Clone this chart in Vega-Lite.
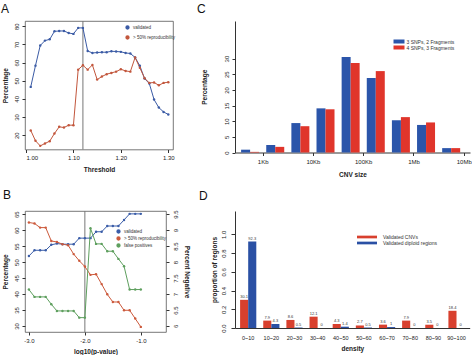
{
  "$schema": "https://vega.github.io/schema/vega-lite/v6.json",
  "padding": {"left": 0, "top": 2, "right": 0, "bottom": 0},
  "background": "white",
  "config": {
    "font": "Liberation Sans",
    "view": {"stroke": null},
    "axis": {"grid": false, "labelFontSize": 6, "titleFontSize": 6.5, "titleFontWeight": "bold", "domainColor": "#333", "tickColor": "#333", "labelColor": "#222", "titleColor": "#222", "tickSize": 3, "labelPadding": 3, "titlePadding": 5},
    "legend": {"labelFontSize": 5, "labelColor": "#333", "rowPadding": 1, "padding": 0, "labelOffset": 3},
    "title": {"fontSize": 12, "fontWeight": "normal", "anchor": "start", "frame": "group", "color": "#111"}
  },
  "datasets": {
    "a": [
      {"threshold": 1.01, "series": "validated", "pct": 46.6}, {"threshold": 1.02, "series": "validated", "pct": 58.3},
      {"threshold": 1.03, "series": "validated", "pct": 69.4}, {"threshold": 1.04, "series": "validated", "pct": 72.1},
      {"threshold": 1.05, "series": "validated", "pct": 72.8}, {"threshold": 1.06, "series": "validated", "pct": 77.2},
      {"threshold": 1.07, "series": "validated", "pct": 77.4}, {"threshold": 1.08, "series": "validated", "pct": 77.4},
      {"threshold": 1.09, "series": "validated", "pct": 76.3}, {"threshold": 1.10, "series": "validated", "pct": 75.8},
      {"threshold": 1.11, "series": "validated", "pct": 79.1}, {"threshold": 1.12, "series": "validated", "pct": 79.1},
      {"threshold": 1.13, "series": "validated", "pct": 66.4}, {"threshold": 1.14, "series": "validated", "pct": 65.3},
      {"threshold": 1.15, "series": "validated", "pct": 65.5}, {"threshold": 1.16, "series": "validated", "pct": 65.7},
      {"threshold": 1.17, "series": "validated", "pct": 65.7}, {"threshold": 1.18, "series": "validated", "pct": 66.2},
      {"threshold": 1.19, "series": "validated", "pct": 66.1}, {"threshold": 1.20, "series": "validated", "pct": 65.9},
      {"threshold": 1.21, "series": "validated", "pct": 65.3}, {"threshold": 1.22, "series": "validated", "pct": 65.0},
      {"threshold": 1.23, "series": "validated", "pct": 62.8}, {"threshold": 1.24, "series": "validated", "pct": 58.2},
      {"threshold": 1.25, "series": "validated", "pct": 51.2}, {"threshold": 1.26, "series": "validated", "pct": 48.4},
      {"threshold": 1.27, "series": "validated", "pct": 39.6}, {"threshold": 1.28, "series": "validated", "pct": 35.2},
      {"threshold": 1.29, "series": "validated", "pct": 32.8}, {"threshold": 1.30, "series": "validated", "pct": 31.4},
      {"threshold": 1.01, "series": "> 50% reproducibility", "pct": 22.6}, {"threshold": 1.02, "series": "> 50% reproducibility", "pct": 16.9},
      {"threshold": 1.03, "series": "> 50% reproducibility", "pct": 14.1}, {"threshold": 1.04, "series": "> 50% reproducibility", "pct": 15.4},
      {"threshold": 1.05, "series": "> 50% reproducibility", "pct": 16.7}, {"threshold": 1.06, "series": "> 50% reproducibility", "pct": 20.9},
      {"threshold": 1.07, "series": "> 50% reproducibility", "pct": 24.6}, {"threshold": 1.08, "series": "> 50% reproducibility", "pct": 24.2},
      {"threshold": 1.09, "series": "> 50% reproducibility", "pct": 25.5}, {"threshold": 1.10, "series": "> 50% reproducibility", "pct": 25.5},
      {"threshold": 1.11, "series": "> 50% reproducibility", "pct": 56.1}, {"threshold": 1.12, "series": "> 50% reproducibility", "pct": 58.5},
      {"threshold": 1.13, "series": "> 50% reproducibility", "pct": 56.1}, {"threshold": 1.14, "series": "> 50% reproducibility", "pct": 58.7},
      {"threshold": 1.15, "series": "> 50% reproducibility", "pct": 50.6}, {"threshold": 1.16, "series": "> 50% reproducibility", "pct": 52.3},
      {"threshold": 1.17, "series": "> 50% reproducibility", "pct": 53.6}, {"threshold": 1.18, "series": "> 50% reproducibility", "pct": 54.3},
      {"threshold": 1.19, "series": "> 50% reproducibility", "pct": 55.0}, {"threshold": 1.20, "series": "> 50% reproducibility", "pct": 56.3},
      {"threshold": 1.21, "series": "> 50% reproducibility", "pct": 55.4}, {"threshold": 1.22, "series": "> 50% reproducibility", "pct": 55.0},
      {"threshold": 1.23, "series": "> 50% reproducibility", "pct": 62.8}, {"threshold": 1.24, "series": "> 50% reproducibility", "pct": 57.1},
      {"threshold": 1.25, "series": "> 50% reproducibility", "pct": 51.4}, {"threshold": 1.26, "series": "> 50% reproducibility", "pct": 48.8},
      {"threshold": 1.27, "series": "> 50% reproducibility", "pct": 49.0}, {"threshold": 1.28, "series": "> 50% reproducibility", "pct": 47.5},
      {"threshold": 1.29, "series": "> 50% reproducibility", "pct": 48.8}, {"threshold": 1.30, "series": "> 50% reproducibility", "pct": 49.2}
    ],
    "b": [
      {"logp": -3.0, "series": "validated", "pct": 51.9}, {"logp": -2.9, "series": "validated", "pct": 53.7},
      {"logp": -2.8, "series": "validated", "pct": 53.7}, {"logp": -2.7, "series": "validated", "pct": 53.7},
      {"logp": -2.6, "series": "validated", "pct": 55.4}, {"logp": -2.5, "series": "validated", "pct": 55.8},
      {"logp": -2.4, "series": "validated", "pct": 55.6}, {"logp": -2.3, "series": "validated", "pct": 55.6},
      {"logp": -2.2, "series": "validated", "pct": 55.6}, {"logp": -2.1, "series": "validated", "pct": 57.5},
      {"logp": -2.0, "series": "validated", "pct": 57.5}, {"logp": -1.9, "series": "validated", "pct": 57.5},
      {"logp": -1.8, "series": "validated", "pct": 59.5}, {"logp": -1.7, "series": "validated", "pct": 59.5},
      {"logp": -1.6, "series": "validated", "pct": 61.3}, {"logp": -1.5, "series": "validated", "pct": 61.3},
      {"logp": -1.4, "series": "validated", "pct": 61.3}, {"logp": -1.3, "series": "validated", "pct": 63.2},
      {"logp": -1.2, "series": "validated", "pct": 65.1}, {"logp": -1.1, "series": "validated", "pct": 65.1},
      {"logp": -1.0, "series": "validated", "pct": 65.1},
      {"logp": -3.0, "series": "> 50% reproducibility", "pct": 62.4}, {"logp": -2.9, "series": "> 50% reproducibility", "pct": 62.1},
      {"logp": -2.8, "series": "> 50% reproducibility", "pct": 60.8}, {"logp": -2.7, "series": "> 50% reproducibility", "pct": 60.8},
      {"logp": -2.6, "series": "> 50% reproducibility", "pct": 56.6}, {"logp": -2.5, "series": "> 50% reproducibility", "pct": 56.3},
      {"logp": -2.4, "series": "> 50% reproducibility", "pct": 55.6}, {"logp": -2.3, "series": "> 50% reproducibility", "pct": 55.3},
      {"logp": -2.2, "series": "> 50% reproducibility", "pct": 52.5}, {"logp": -2.1, "series": "> 50% reproducibility", "pct": 50.4},
      {"logp": -2.0, "series": "> 50% reproducibility", "pct": 48.6}, {"logp": -1.9, "series": "> 50% reproducibility", "pct": 46.0},
      {"logp": -1.8, "series": "> 50% reproducibility", "pct": 46.2}, {"logp": -1.7, "series": "> 50% reproducibility", "pct": 43.1},
      {"logp": -1.6, "series": "> 50% reproducibility", "pct": 39.9}, {"logp": -1.5, "series": "> 50% reproducibility", "pct": 37.5},
      {"logp": -1.4, "series": "> 50% reproducibility", "pct": 37.5}, {"logp": -1.3, "series": "> 50% reproducibility", "pct": 34.9},
      {"logp": -1.2, "series": "> 50% reproducibility", "pct": 34.9}, {"logp": -1.1, "series": "> 50% reproducibility", "pct": 32.3},
      {"logp": -1.0, "series": "> 50% reproducibility", "pct": 29.7}
    ],
    "bneg": [
      {"logp": -3.0, "series": "false positives", "neg": 7.14}, {"logp": -2.9, "series": "false positives", "neg": 6.91},
      {"logp": -2.8, "series": "false positives", "neg": 6.91}, {"logp": -2.7, "series": "false positives", "neg": 6.91},
      {"logp": -2.6, "series": "false positives", "neg": 6.68}, {"logp": -2.5, "series": "false positives", "neg": 6.47},
      {"logp": -2.4, "series": "false positives", "neg": 6.47}, {"logp": -2.3, "series": "false positives", "neg": 6.47},
      {"logp": -2.2, "series": "false positives", "neg": 6.47}, {"logp": -2.1, "series": "false positives", "neg": 6.26},
      {"logp": -2.0, "series": "false positives", "neg": 6.26}, {"logp": -1.9, "series": "false positives", "neg": 9.06},
      {"logp": -1.8, "series": "false positives", "neg": 8.57}, {"logp": -1.7, "series": "false positives", "neg": 8.57},
      {"logp": -1.6, "series": "false positives", "neg": 8.34}, {"logp": -1.5, "series": "false positives", "neg": 8.34},
      {"logp": -1.4, "series": "false positives", "neg": 8.10}, {"logp": -1.3, "series": "false positives", "neg": 7.87},
      {"logp": -1.2, "series": "false positives", "neg": 7.14}, {"logp": -1.1, "series": "false positives", "neg": 7.14},
      {"logp": -1.0, "series": "false positives", "neg": 7.14}
    ],
    "c": [
      {"bin": 2.75, "platform": "3 SNPs, 2 Fragments", "pct": 0.9}, {"bin": 2.75, "platform": "4 SNPs, 3 Fragments", "pct": 0.2},
      {"bin": 3.25, "platform": "3 SNPs, 2 Fragments", "pct": 2.4}, {"bin": 3.25, "platform": "4 SNPs, 3 Fragments", "pct": 1.8},
      {"bin": 3.75, "platform": "3 SNPs, 2 Fragments", "pct": 9.4}, {"bin": 3.75, "platform": "4 SNPs, 3 Fragments", "pct": 8.4},
      {"bin": 4.25, "platform": "3 SNPs, 2 Fragments", "pct": 14.1}, {"bin": 4.25, "platform": "4 SNPs, 3 Fragments", "pct": 13.8},
      {"bin": 4.75, "platform": "3 SNPs, 2 Fragments", "pct": 30.5}, {"bin": 4.75, "platform": "4 SNPs, 3 Fragments", "pct": 28.6},
      {"bin": 5.25, "platform": "3 SNPs, 2 Fragments", "pct": 23.8}, {"bin": 5.25, "platform": "4 SNPs, 3 Fragments", "pct": 26.0},
      {"bin": 5.75, "platform": "3 SNPs, 2 Fragments", "pct": 10.3}, {"bin": 5.75, "platform": "4 SNPs, 3 Fragments", "pct": 11.3},
      {"bin": 6.25, "platform": "3 SNPs, 2 Fragments", "pct": 8.8}, {"bin": 6.25, "platform": "4 SNPs, 3 Fragments", "pct": 9.6},
      {"bin": 6.75, "platform": "3 SNPs, 2 Fragments", "pct": 1.4}, {"bin": 6.75, "platform": "4 SNPs, 3 Fragments", "pct": 1.4}
    ],
    "d": [
      {"density": "0~10", "set": "Validated CNVs", "pct": 30.1}, {"density": "0~10", "set": "Validated diploid regions", "pct": 92.3},
      {"density": "10~20", "set": "Validated CNVs", "pct": 7.9}, {"density": "10~20", "set": "Validated diploid regions", "pct": 4.3},
      {"density": "20~30", "set": "Validated CNVs", "pct": 8.6}, {"density": "20~30", "set": "Validated diploid regions", "pct": 0.5},
      {"density": "30~40", "set": "Validated CNVs", "pct": 12.1}, {"density": "30~40", "set": "Validated diploid regions", "pct": 0},
      {"density": "40~50", "set": "Validated CNVs", "pct": 4.3}, {"density": "40~50", "set": "Validated diploid regions", "pct": 1.4},
      {"density": "50~60", "set": "Validated CNVs", "pct": 2.7}, {"density": "50~60", "set": "Validated diploid regions", "pct": 0.5},
      {"density": "60~70", "set": "Validated CNVs", "pct": 3.6}, {"density": "60~70", "set": "Validated diploid regions", "pct": 1},
      {"density": "70~80", "set": "Validated CNVs", "pct": 7.9}, {"density": "70~80", "set": "Validated diploid regions", "pct": 0},
      {"density": "80~90", "set": "Validated CNVs", "pct": 3.5}, {"density": "80~90", "set": "Validated diploid regions", "pct": 0},
      {"density": "90~100", "set": "Validated CNVs", "pct": 18.4}, {"density": "90~100", "set": "Validated diploid regions", "pct": 0}
    ]
  },
  "columns": 2,
  "bounds": "flush",
  "align": "each",
  "spacing": {"row": 58, "column": 62},
  "resolve": {"scale": {"color": "independent", "x": "independent", "y": "independent"}},
  "concat": [
    {
      "title": {"text": "A", "dx": -24, "offset": 5},
      "width": 148,
      "height": 128.5,
      "view": {"stroke": "#555", "strokeWidth": 0.8},
      "layer": [
        {
          "data": {"values": [{}]},
          "mark": {"type": "rule", "color": "#777", "strokeWidth": 1},
          "encoding": {"x": {"datum": 1.12, "type": "quantitative"}}
        },
        {
          "data": {"name": "a"},
          "mark": {"type": "line", "strokeWidth": 1, "point": {"filled": true, "size": 6}},
          "encoding": {
            "x": {"field": "threshold", "type": "quantitative", "scale": {"domain": [0.9979, 1.3099], "nice": false, "zero": false},
                  "axis": {"values": [1.0, 1.05, 1.1, 1.15, 1.2, 1.25, 1.3], "format": ".2f", "title": "Threshold", "domain": false, "labelPadding": 2, "titlePadding": 6}},
            "y": {"field": "pct", "type": "quantitative", "scale": {"domain": [12.1, 82.9], "nice": false, "zero": false},
                  "axis": {"values": [20, 30, 40, 50, 60, 70, 80], "title": "Percentage", "labelAngle": -90, "domain": false}},
            "color": {"field": "series", "type": "nominal", "sort": null,
                      "scale": {"domain": ["validated", "> 50% reproducibility"], "range": ["#3b5ba5", "#c2563c"]},
                      "legend": {"title": null, "orient": "none", "legendX": 100, "legendY": 4, "symbolType": "circle", "symbolSize": 8, "labelFontSize": 4.5, "rowPadding": 1}}
          }
        }
      ]
    },
    {
      "title": {"text": "C", "dx": -38, "offset": 5},
      "width": 235,
      "height": 131.5,
      "data": {"name": "c"},
      "encoding": {
        "x": {"field": "bin", "type": "quantitative", "scale": {"domain": [2.549, 7.025], "nice": false, "zero": false},
              "axis": {"values": [3, 4, 5, 6, 7], "title": "CNV size", "labelPadding": 3, "titlePadding": 7,
                       "labelExpr": "datum.value == 3 ? '1Kb' : datum.value == 4 ? '10Kb' : datum.value == 5 ? '100Kb' : datum.value == 6 ? '1Mb' : '10Mb'"}},
        "y": {"field": "pct", "type": "quantitative", "scale": {"domain": [0, 42], "nice": false},
              "axis": {"values": [0, 5, 10, 15, 20, 25, 30], "title": "Percentage", "labelAngle": -90, "titlePadding": 16}},
        "color": {"field": "platform", "type": "nominal", "sort": null,
                  "scale": {"domain": ["3 SNPs, 2 Fragments", "4 SNPs, 3 Fragments"], "range": ["#2b55aa", "#e0352b"]},
                  "legend": {"title": null, "orient": "none", "legendX": 161.5, "legendY": 18, "symbolType": "M-2.75,-1H2.75V1H-2.75Z", "symbolSize": 16, "symbolStrokeWidth": 0, "labelFontSize": 5, "rowPadding": 0, "labelOffset": 5}}
      },
      "layer": [
        {"transform": [{"filter": "datum.platform == '3 SNPs, 2 Fragments'"}], "mark": {"type": "bar", "width": 9, "xOffset": -4.5, "orient": "vertical"}},
        {"transform": [{"filter": "datum.platform == '4 SNPs, 3 Fragments'"}], "mark": {"type": "bar", "width": 9, "xOffset": 4.5, "orient": "vertical"}}
      ]
    },
    {
      "title": {"text": "B", "dx": -22, "offset": 8},
      "width": 141,
      "height": 121,
      "view": {"stroke": "#555", "strokeWidth": 0.8},
      "layer": [
        {
          "data": {"values": [{}]},
          "mark": {"type": "rule", "color": "#777", "strokeWidth": 1},
          "encoding": {"x": {"datum": -2.0, "type": "quantitative"}}
        },
        {
          "data": {"name": "b"},
          "mark": {"type": "line", "strokeWidth": 1, "point": {"filled": true, "size": 6}},
          "encoding": {
            "x": {"field": "logp", "type": "quantitative", "scale": {"domain": [-3.07, -0.55], "nice": false, "zero": false},
                  "axis": {"values": [-3, -2.5, -2, -1.5, -1], "title": "log10(p-value)", "domain": false, "labelPadding": 2, "titlePadding": 5,
                           "labelExpr": "replace(format(datum.value, '.1f'), '\u2212', '-')"}},
            "y": {"field": "pct", "type": "quantitative", "scale": {"domain": [28.1, 66.0], "nice": false, "zero": false},
                  "axis": {"values": [30, 35, 40, 45, 50, 55, 60, 65], "title": "Percentage", "labelAngle": -90, "domain": false}},
            "color": {"field": "series", "type": "nominal", "sort": null,
                      "scale": {"domain": ["validated", "> 50% reproducibility", "false positives"], "range": ["#3a5da8", "#cc5a3c", "#5e9f5e"]},
                      "legend": {"title": null, "orient": "none", "legendX": 91, "legendY": 18, "symbolType": "circle", "symbolSize": 8, "labelFontSize": 4.5, "rowPadding": -2}}
          }
        },
        {
          "data": {"name": "bneg"},
          "mark": {"type": "line", "strokeWidth": 1, "point": {"filled": true, "size": 6}},
          "encoding": {
            "x": {"field": "logp", "type": "quantitative"},
            "y": {"field": "neg", "type": "quantitative", "scale": {"domain": [5.81, 9.6], "nice": false, "zero": false},
                  "axis": {"orient": "right", "values": [6, 6.5, 7, 7.5, 8, 8.5, 9, 9.5], "format": "~g", "title": "Percent Negative", "labelAngle": -90, "domain": false}},
            "color": {"field": "series", "type": "nominal", "sort": null,
                      "scale": {"domain": ["validated", "> 50% reproducibility", "false positives"], "range": ["#3a5da8", "#cc5a3c", "#5e9f5e"]}}
          }
        }
      ],
      "resolve": {"scale": {"y": "independent"}}
    },
    {
      "title": {"text": "D", "dx": -36, "offset": 8},
      "width": 234.7,
      "height": 117,
      "data": {"name": "d"},
      "encoding": {
        "x": {"field": "density", "type": "nominal", "sort": null,
              "scale": {"paddingInner": 0.3, "paddingOuter": 0.22},
              "axis": {"title": "density", "labelAngle": 0, "ticks": false, "labelPadding": 7, "titlePadding": 5, "labelFontSize": 5.5}},
        "xOffset": {"field": "set", "type": "nominal", "sort": null, "scale": {"domain": ["Validated CNVs", "Validated diploid regions"], "paddingInner": 0}},
        "y": {"field": "pct", "type": "quantitative", "scale": {"domain": [0, 125], "nice": false},
              "axis": {"values": [0, 20, 40, 60, 80, 100], "title": "proportion of regions", "labelAngle": -90, "tickSize": 4, "labelPadding": 5, "titlePadding": 3,
                       "labelExpr": "format(datum.value / 100, '.1f')"}}
      },
      "layer": [
        {
          "mark": {"type": "bar"},
          "encoding": {
            "color": {"field": "set", "type": "nominal", "sort": null,
                      "scale": {"domain": ["Validated CNVs", "Validated diploid regions"], "range": ["#d8402e", "#2a50a4"]},
                      "legend": {"title": null, "orient": "none", "legendX": 129, "legendY": 23, "symbolType": "M-3.33,-0.45H3.33V0.45H-3.33Z", "symbolSize": 36, "symbolStrokeWidth": 0, "labelFontSize": 5, "rowPadding": 0, "labelOffset": 13}}
          }
        },
        {
          "mark": {"type": "text", "fontSize": 4, "dy": -3, "color": "#333"},
          "encoding": {"text": {"field": "pct", "type": "quantitative", "format": "~g"}}
        }
      ]
    }
  ]
}
